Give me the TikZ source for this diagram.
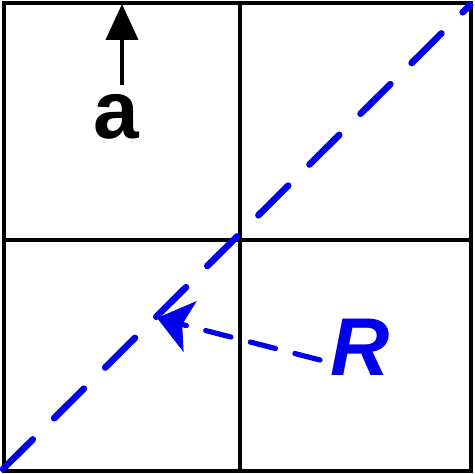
\documentclass[tikz,border=0pt]{standalone}
\usepackage{fontspec}
\setmainfont{Liberation Sans}
\usetikzlibrary{arrows.meta}
\definecolor{rblue}{RGB}{0,0,235}
\tikzset{
  gridline/.style={line width=2.3pt, black},
  diagdash/.style={rblue, line width=3.3pt, line cap=round, dash pattern=on 21pt off 15pt},
  rdash/.style={rblue, line width=2.6pt, line cap=round, dash pattern=on 13pt off 10pt,
    -{Stealth[length=17pt,width=26pt,inset=4pt]}},
  aarrow/.style={line width=2pt, black, -{Triangle[length=18pt,width=16pt]}},
  lbl/.style={font=\fontsize{41}{41}\selectfont\bfseries, inner sep=0pt},
}
\begin{document}
\begin{tikzpicture}[x=0.5pt,y=-0.5pt]
\useasboundingbox (0,0) rectangle (474,474);
% grid
\draw[gridline] (4,3) rectangle (471,471);
\draw[gridline] (240,3) -- (240,471);
\draw[gridline] (4,240) -- (471,240);
% diagonal
\coordinate (d1) at (3,469);
\coordinate (d2) at (470,5);
\draw[diagdash] (d1) -- (d2);
% label a and arrow
\node[lbl] (a) at (116,117) {a};
\coordinate (atail) at (122,85);
\coordinate (atip) at (122,4);
\draw[aarrow] (atail) -- (atip);
% label R and arrow
\node[lbl, rblue, font=\fontsize{41}{41}\selectfont\bfseries\itshape] (R) at (360,347) {R};
\coordinate (rtail) at (320,360);
\coordinate (rtip) at (157,318);
\draw[rdash] (rtail) -- (rtip);
\end{tikzpicture}
\end{document}
